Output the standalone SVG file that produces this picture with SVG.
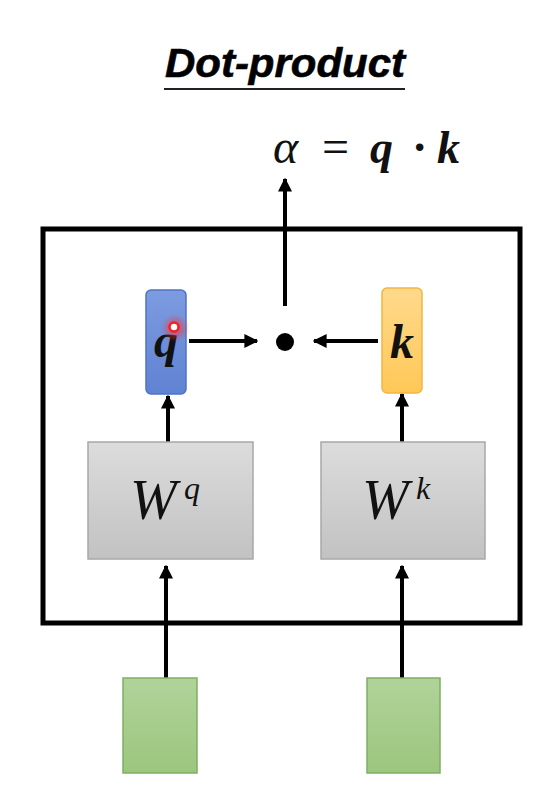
<svg xmlns="http://www.w3.org/2000/svg" width="546" height="792" viewBox="0 0 546 792">
<defs>
<style>
.title{font-family:"Liberation Sans",Arial,sans-serif;font-weight:bold;font-style:italic;font-size:41px;fill:#000}
.math{font-family:"Liberation Serif","DejaVu Serif",serif;fill:#111}
.line{stroke:#000;stroke-width:4;fill:none}
</style>
<linearGradient id="gBlue" x1="0" y1="0" x2="0" y2="1"><stop offset="0" stop-color="#7d9be0"/><stop offset="1" stop-color="#5f82d2"/></linearGradient>
<linearGradient id="gOrange" x1="0" y1="0" x2="0" y2="1"><stop offset="0" stop-color="#ffd98c"/><stop offset="1" stop-color="#ffc857"/></linearGradient>
<linearGradient id="gGray" x1="0" y1="0" x2="0" y2="1"><stop offset="0" stop-color="#dcdcdc"/><stop offset="1" stop-color="#c2c2c2"/></linearGradient>
<linearGradient id="gGreen" x1="0" y1="0" x2="0" y2="1"><stop offset="0" stop-color="#b0d39a"/><stop offset="1" stop-color="#9cc67e"/></linearGradient>
<radialGradient id="glow"><stop offset="0" stop-color="#ff3030" stop-opacity="0.8"/><stop offset="1" stop-color="#ff3030" stop-opacity="0"/></radialGradient>
<marker id="ah" viewBox="0 0 10 10" refX="9" refY="5" markerWidth="3.5" markerHeight="3.5" orient="auto" markerUnits="strokeWidth"><path d="M0,0 L10,5 L0,10 z" fill="#000"/></marker>
</defs>
<rect width="546" height="792" fill="#fff"/>

<g id="title">
<text class="title" x="165" y="77" textLength="240" lengthAdjust="spacingAndGlyphs" stroke="#000" stroke-width="0.6">Dot-product</text>
<line x1="164" y1="89" x2="405" y2="89" stroke="#222" stroke-width="2"/>
</g>

<g id="formula">
<text class="math" x="273" y="163" font-size="48" font-style="italic">α</text>
<text class="math" x="322" y="163" font-size="48">=</text>
<text class="math" x="370" y="163" font-size="46" font-style="italic" font-weight="bold">q</text>
<text class="math" x="412" y="163" font-size="46" font-weight="bold">·</text>
<text class="math" x="437" y="163" font-size="46" font-style="italic" font-weight="bold">k</text>
</g>

<g id="outer-box">
<rect x="43" y="229" width="477" height="394" fill="none" stroke="#000" stroke-width="5"/>
</g>

<g id="connectors">
<line class="line" x1="285" y1="306" x2="285" y2="179" marker-end="url(#ah)"/>
<line class="line" x1="189" y1="341" x2="257" y2="341" marker-end="url(#ah)"/>
<line class="line" x1="378" y1="341" x2="314" y2="341" marker-end="url(#ah)"/>
<line class="line" x1="168" y1="442" x2="168" y2="396" marker-end="url(#ah)"/>
<line class="line" x1="402" y1="442" x2="402" y2="394" marker-end="url(#ah)"/>
<line class="line" x1="166" y1="678" x2="166" y2="566" marker-end="url(#ah)"/>
<line class="line" x1="402" y1="678" x2="402" y2="566" marker-end="url(#ah)"/>
</g>

<g id="dot">
<circle cx="285" cy="342" r="9" fill="#000"/>
</g>

<g id="q">
<rect x="146" y="290" width="40" height="104" rx="5" fill="url(#gBlue)" stroke="#4f74c4" stroke-width="1.5"/>
<text class="math" x="166" y="357" font-size="48" font-style="italic" font-weight="bold" text-anchor="middle">q</text>
<circle cx="175" cy="328" r="14" fill="url(#glow)"/>
<circle cx="174" cy="327" r="4.5" fill="#fff" stroke="#ff1a1a" stroke-width="2.5"/>
</g>

<g id="k">
<rect x="382" y="288" width="40" height="105" rx="5" fill="url(#gOrange)" stroke="#f2b640" stroke-width="1.5"/>
<text class="math" x="402" y="358" font-size="48" font-style="italic" font-weight="bold" text-anchor="middle">k</text>
</g>

<g id="Wq">
<rect x="88" y="442" width="165" height="117" fill="url(#gGray)" stroke="#a8a8a8" stroke-width="1.5"/>
<text class="math" x="130" y="519" font-size="56" font-style="italic">W</text>
<text class="math" x="184" y="499" font-size="32" font-style="italic">q</text>
</g>

<g id="Wk">
<rect x="321" y="442" width="164" height="117" fill="url(#gGray)" stroke="#a8a8a8" stroke-width="1.5"/>
<text class="math" x="362" y="519" font-size="56" font-style="italic">W</text>
<text class="math" x="416" y="499" font-size="32" font-style="italic">k</text>
</g>

<g id="input1">
<rect x="123" y="678" width="74" height="95" fill="url(#gGreen)" stroke="#7fae62" stroke-width="1.5"/>
</g>
<g id="input2">
<rect x="367" y="678" width="73" height="95" fill="url(#gGreen)" stroke="#7fae62" stroke-width="1.5"/>
</g>
</svg>
